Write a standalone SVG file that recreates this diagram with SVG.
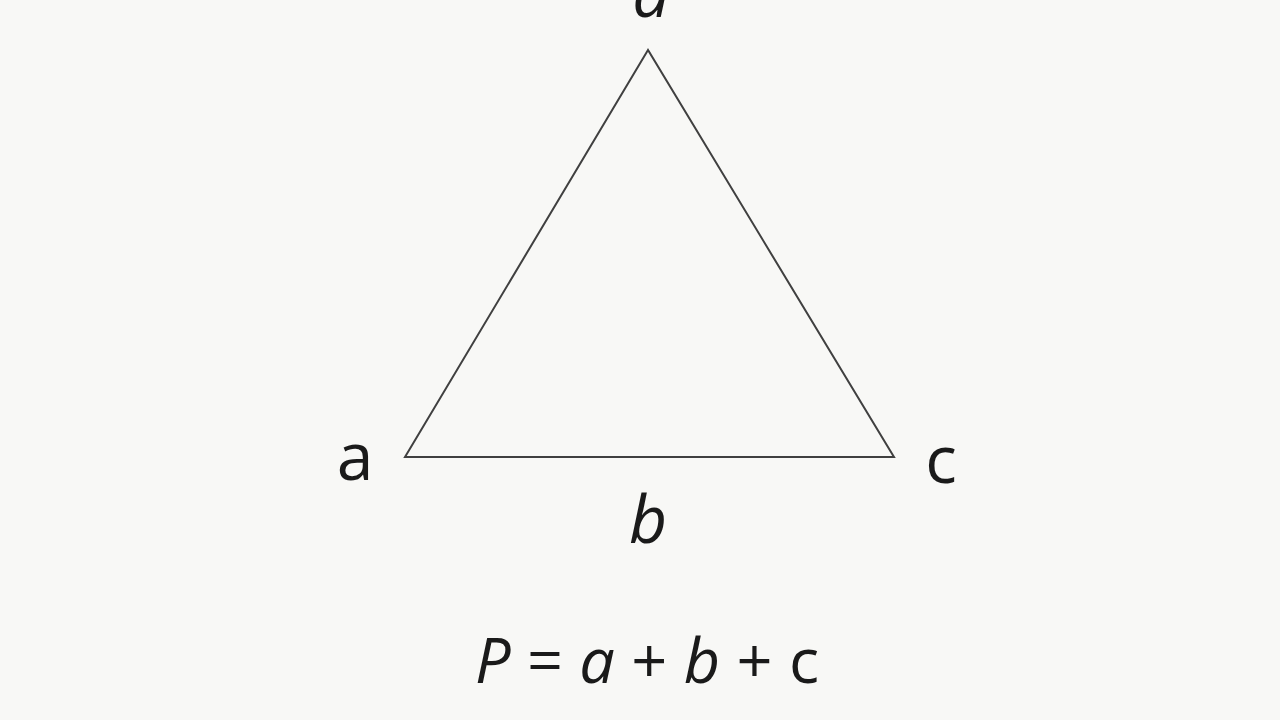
<svg xmlns="http://www.w3.org/2000/svg" width="1280" height="720" viewBox="0 0 1280 720">
<style>
.lbl{font-family:"Open Sans","Liberation Sans",sans-serif;font-size:66px;fill:#1a1a1a}
.it{font-style:italic}
.f{font-size:63px}
</style>
<rect width="1280" height="720" fill="#f8f8f6"/>
<g id="triangle"><polygon points="648,50 405,457 894,457" fill="none" stroke="#404040" stroke-width="2"/></g>
<g id="labels">
<text class="lbl it" x="651" y="17" text-anchor="middle">a</text>
<text class="lbl" x="355" y="480" text-anchor="middle">a</text>
<text class="lbl" x="941" y="483" text-anchor="middle">c</text>
<text class="lbl it" x="648" y="543" text-anchor="middle">b</text>
</g>
<g id="formula">
<text class="lbl f" x="647" y="683" text-anchor="middle"><tspan class="it">P</tspan> = <tspan class="it">a</tspan> + <tspan class="it">b</tspan> + c</text>
</g>
</svg>
